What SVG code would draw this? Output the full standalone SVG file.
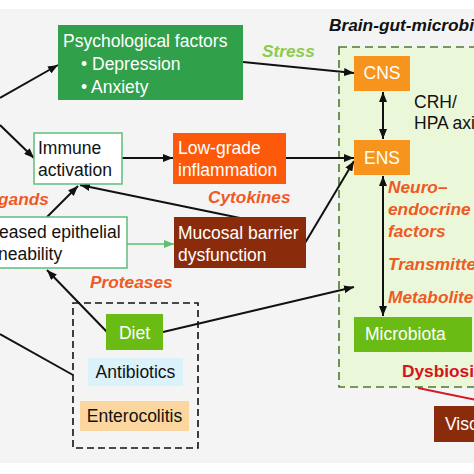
<svg xmlns="http://www.w3.org/2000/svg" width="474" height="474" viewBox="0 0 474 474">
<defs>
<style>
text{font-family:"Liberation Sans",Arial,sans-serif;}
.t{font-size:17.5px;fill:#ffffff;}
.k{font-size:17.5px;fill:#111111;}
.lab{font-size:17.3px;font-weight:bold;font-style:italic;fill:#ef5a24;}
.ln{stroke:#111;stroke-width:2;fill:none;}
</style>
<marker id="ah" viewBox="0 0 10 8" refX="10" refY="4" markerWidth="10" markerHeight="8" markerUnits="userSpaceOnUse" orient="auto-start-reverse"><path d="M0,0 L10,4 L0,8 z" fill="#111"/></marker>
<marker id="ahg" viewBox="0 0 10 8" refX="10" refY="4" markerWidth="10" markerHeight="8" markerUnits="userSpaceOnUse" orient="auto"><path d="M0,0 L10,4 L0,8 z" fill="#5cc070"/></marker>
</defs>
<rect x="0" y="0" width="474" height="474" fill="#ffffff"/>
<rect x="0" y="9" width="474" height="454" fill="#f4f4f4"/>

<g id="gut-axis-box">
<rect x="339" y="47" width="145" height="340" fill="#eaf7d9" stroke="#4e7a30" stroke-width="1.6" stroke-dasharray="8,5"/>
<text x="329" y="31" style="font-size:17.3px;font-weight:bold;font-style:italic;fill:#111">Brain-gut-microbi</text>
</g>
<g id="env-box">
<rect x="73" y="303" width="125" height="145" fill="#f4f4f4" stroke="#111" stroke-width="1.6" stroke-dasharray="7,4"/>
</g>

<g id="connectors">
<line class="ln" x1="0" y1="98" x2="58" y2="65" marker-end="url(#ah)"/>
<line class="ln" x1="0" y1="125" x2="34" y2="158" marker-end="url(#ah)"/>
<line class="ln" x1="122" y1="158" x2="173" y2="158" marker-end="url(#ah)"/>
<line class="ln" x1="240" y1="218" x2="80" y2="185" marker-end="url(#ah)"/>
<line class="ln" x1="47" y1="217" x2="78" y2="186" marker-end="url(#ah)"/>
<line x1="127" y1="244" x2="174" y2="244" stroke="#5cc070" stroke-width="1.5" marker-end="url(#ahg)"/>
<line class="ln" x1="305" y1="243" x2="354" y2="161" marker-end="url(#ah)"/>
<line class="ln" x1="286" y1="158" x2="354" y2="158" marker-end="url(#ah)"/>
<line class="ln" x1="243" y1="62" x2="354" y2="73" marker-end="url(#ah)"/>
<line class="ln" x1="383" y1="92" x2="383" y2="139" marker-start="url(#ah)" marker-end="url(#ah)"/>
<line class="ln" x1="383" y1="176" x2="383" y2="316" marker-start="url(#ah)" marker-end="url(#ah)"/>
<line class="ln" x1="163" y1="332" x2="354" y2="287" marker-end="url(#ah)"/>
<line class="ln" x1="107" y1="332" x2="47" y2="270" marker-end="url(#ah)"/>
<line class="ln" x1="0" y1="334" x2="73" y2="375"/>
<line x1="418" y1="388" x2="476" y2="400" stroke="#d41a20" stroke-width="2"/>
</g>

<g id="psychological">
<rect x="58" y="25" width="185" height="75" fill="#31a04a"/>
<text class="t" x="63" y="47">Psychological factors</text>
<text class="t" x="81" y="70">• Depression</text>
<text class="t" x="81" y="93">• Anxiety</text>
</g>
<g id="immune">
<rect x="34" y="133" width="88" height="51" fill="#ffffff" stroke="#5dbd7a" stroke-width="1.5"/>
<text class="k" x="38" y="154">Immune</text>
<text class="k" x="38" y="176">activation</text>
</g>
<g id="lowgrade">
<rect x="173" y="133" width="113" height="51" fill="#fc5a0a"/>
<text class="t" x="178" y="154">Low-grade</text>
<text class="t" x="178" y="176">inflammation</text>
</g>
<g id="mucosal">
<rect x="174" y="217" width="132" height="51" fill="#8a2c0c"/>
<text class="t" x="178" y="239">Mucosal barrier</text>
<text class="t" x="178" y="261">dysfunction</text>
</g>
<g id="epithelial">
<rect x="-5" y="217" width="132" height="51" fill="#ffffff" stroke="#5dbd7a" stroke-width="1.5"/>
<text class="k" x="-1" y="238">eased epithelial</text>
<text class="k" x="-2" y="260">neability</text>
</g>
<g id="cns">
<rect x="354" y="56" width="56" height="35" fill="#f7941d"/>
<text class="t" x="382" y="79" text-anchor="middle">CNS</text>
</g>
<g id="ens">
<rect x="354" y="140" width="56" height="35" fill="#f7941d"/>
<text class="t" x="382" y="164" text-anchor="middle">ENS</text>
</g>
<g id="microbiota">
<rect x="354" y="317" width="118" height="35" fill="#6abc15"/>
<text class="t" x="365" y="340">Microbiota</text>
</g>
<g id="visc">
<rect x="434" y="406" width="45" height="36" fill="#8a2c0c"/>
<text class="t" x="445" y="430">Visc</text>
</g>
<g id="diet">
<rect x="106" y="314" width="57" height="36" fill="#6abc15"/>
<text class="t" x="134.5" y="339" text-anchor="middle">Diet</text>
</g>
<g id="antibiotics">
<rect x="88" y="358" width="95" height="28" fill="#dbf2fa"/>
<text class="k" x="135.5" y="378" text-anchor="middle">Antibiotics</text>
</g>
<g id="enterocolitis">
<rect x="80" y="401" width="109" height="30" fill="#fbd79f"/>
<text class="k" x="134.5" y="422" text-anchor="middle">Enterocolitis</text>
</g>

<g id="labels">
<text x="262" y="57" style="font-size:17.3px;font-weight:bold;font-style:italic;fill:#8ccc4a">Stress</text>
<text class="k" x="414" y="108">CRH/</text>
<text class="k" x="414" y="129">HPA axi</text>
<text class="lab" x="-2" y="205">gands</text>
<text class="lab" x="208" y="203">Cytokines</text>
<text class="lab" x="90" y="288">Proteases</text>
<text class="lab" x="388" y="193">Neuro–</text>
<text class="lab" x="388" y="215">endocrine</text>
<text class="lab" x="388" y="237">factors</text>
<text class="lab" x="388" y="270">Transmitte</text>
<text class="lab" x="388" y="303">Metabolite</text>
<text x="402" y="377" style="font-size:17.3px;font-weight:bold;fill:#d4141c">Dysbiosi</text>
</g>
</svg>
